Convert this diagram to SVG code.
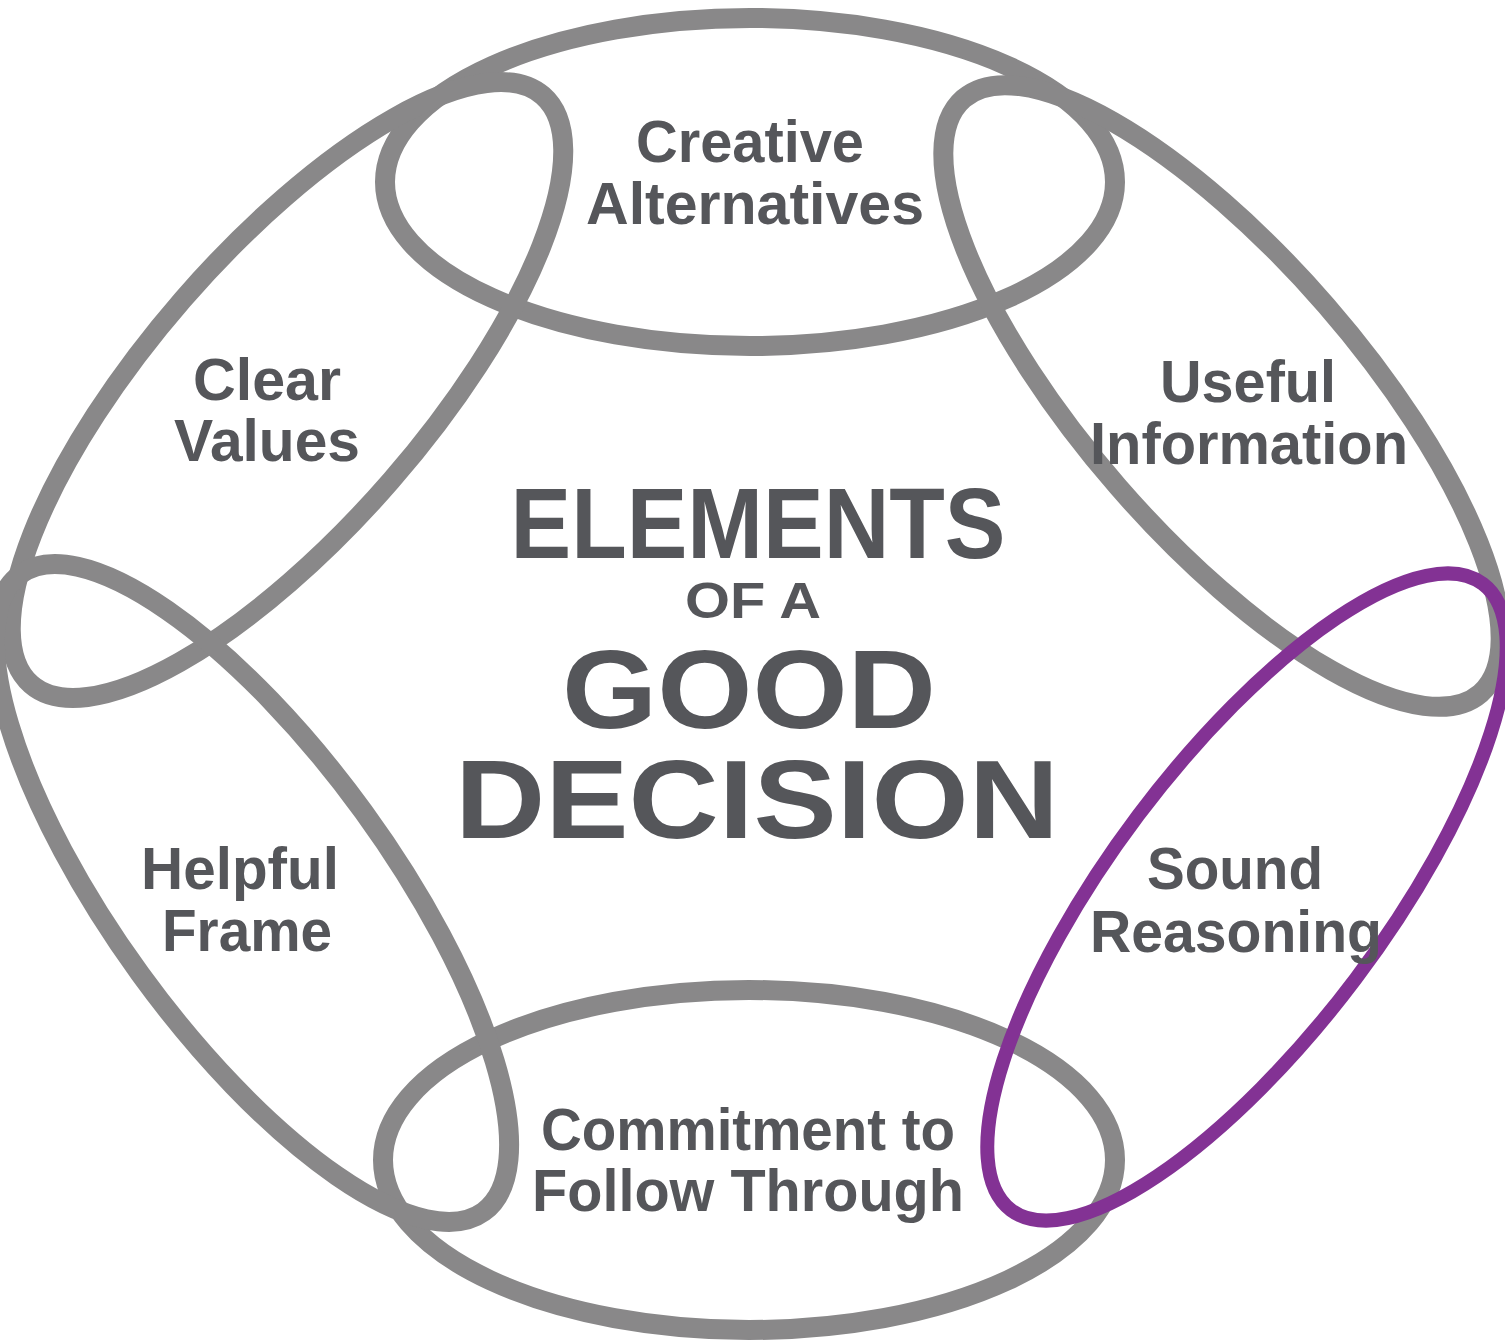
<svg xmlns="http://www.w3.org/2000/svg" width="1505" height="1341" viewBox="0 0 1505 1341">
<style>
.r{fill:none;stroke:#898889;stroke-width:20}
.p{fill:none;stroke:#833294;stroke-width:14}
.t{font-family:"Liberation Sans",Arial,sans-serif;font-weight:bold;fill:#55565a;text-anchor:middle;font-size:60px}
.c{font-family:"Liberation Sans",Arial,sans-serif;font-weight:bold;fill:#55565a;text-anchor:middle}
</style>
<rect width="1505" height="1341" fill="#fff"/>
<g id="connectors">
<g id="n-creative-ring"><ellipse class="r" cx="750" cy="182" rx="365" ry="164"/></g>
<g id="n-commit-ring"><ellipse class="r" cx="749" cy="1160" rx="366" ry="170"/></g>
<g id="n-values-ring"><ellipse class="r" cx="287" cy="390" rx="390" ry="138" transform="rotate(-49 287 390)"/></g>
<g id="n-frame-ring"><ellipse class="r" cx="252" cy="893" rx="394" ry="138" transform="rotate(54 252 893)"/></g>
<g id="n-info-ring"><ellipse class="r" cx="1222" cy="396" rx="394" ry="138" transform="rotate(49 1222 396)"/></g>
<g id="n-reason-ring"><ellipse class="p" cx="1247" cy="897" rx="392" ry="136" transform="rotate(-53 1247 897)"/></g>
</g>
<g id="labels">
<g id="creative"><text class="t" x="750" y="162" textLength="228" lengthAdjust="spacingAndGlyphs">Creative</text><text class="t" x="755" y="224" textLength="338" lengthAdjust="spacingAndGlyphs">Alternatives</text></g>
<g id="values"><text class="t" x="267" y="400" textLength="148" lengthAdjust="spacingAndGlyphs">Clear</text><text class="t" x="267" y="461" textLength="186" lengthAdjust="spacingAndGlyphs">Values</text></g>
<g id="info"><text class="t" x="1248" y="402" textLength="176" lengthAdjust="spacingAndGlyphs">Useful</text><text class="t" x="1249" y="464" textLength="318" lengthAdjust="spacingAndGlyphs">Information</text></g>
<g id="frame"><text class="t" x="240" y="889" textLength="198" lengthAdjust="spacingAndGlyphs">Helpful</text><text class="t" x="247" y="951" textLength="170" lengthAdjust="spacingAndGlyphs">Frame</text></g>
<g id="reason"><text class="t" x="1235" y="889" textLength="176" lengthAdjust="spacingAndGlyphs">Sound</text><text class="t" x="1236" y="952" textLength="292" lengthAdjust="spacingAndGlyphs">Reasoning</text></g>
<g id="commit"><text class="t" x="748" y="1150" textLength="414" lengthAdjust="spacingAndGlyphs">Commitment to</text><text class="t" x="748" y="1211" textLength="432" lengthAdjust="spacingAndGlyphs">Follow Through</text></g>
<g id="title">
<text class="c" x="758" y="558" font-size="100" textLength="495" lengthAdjust="spacingAndGlyphs">ELEMENTS</text>
<text class="c" x="753" y="618" font-size="50" textLength="136" lengthAdjust="spacingAndGlyphs">OF A</text>
<text class="c" x="749" y="728" font-size="112" textLength="374" lengthAdjust="spacingAndGlyphs">GOOD</text>
<text class="c" x="757" y="838" font-size="112" textLength="604" lengthAdjust="spacingAndGlyphs">DECISION</text>
</g>
</g>
</svg>
